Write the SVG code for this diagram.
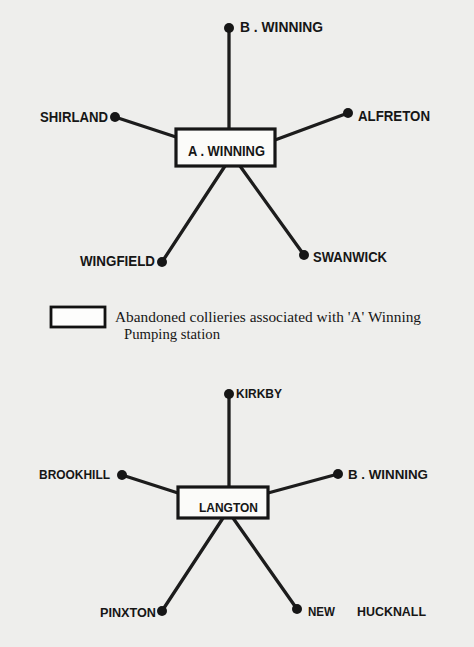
<svg xmlns="http://www.w3.org/2000/svg" width="474" height="647" viewBox="0 0 474 647">
<style>
.lbl{font-family:"Liberation Sans",Arial,sans-serif;font-weight:bold;font-size:14.5px;fill:#161616}
.sm{font-size:13px}
.leg{font-family:"Liberation Serif","Times New Roman",serif;font-size:14.5px;fill:#161616}
.box{fill:#fbfbf9;stroke:#161616;stroke-width:3.2}
.ln{stroke:#1c1c1c;stroke-width:3.3;fill:none;stroke-linecap:round}
.dot{fill:#161616}
</style>
<rect width="474" height="647" fill="#eeeeec"/>
<g id="connectors">
<line class="ln" x1="229" y1="28" x2="229" y2="129"/>
<line class="ln" x1="115" y1="117" x2="176" y2="137"/>
<line class="ln" x1="348" y1="113" x2="275" y2="140"/>
<line class="ln" x1="225" y1="166" x2="162" y2="262"/>
<line class="ln" x1="240" y1="166" x2="304" y2="255"/>
<line class="ln" x1="229" y1="394" x2="229" y2="487"/>
<line class="ln" x1="122" y1="475" x2="178" y2="493"/>
<line class="ln" x1="338" y1="474" x2="268" y2="493"/>
<line class="ln" x1="223" y1="518" x2="162" y2="611"/>
<line class="ln" x1="233" y1="518" x2="297" y2="609"/>
</g>
<g id="a-winning"><rect class="box" x="176" y="129" width="99" height="37"/><text class="lbl" x="188" y="156" textLength="77" lengthAdjust="spacingAndGlyphs">A . WINNING</text></g>
<g id="b-winning-top"><circle class="dot" cx="229" cy="28" r="5"/><text class="lbl" x="240" y="32" textLength="83" lengthAdjust="spacingAndGlyphs">B . WINNING</text></g>
<g id="shirland"><circle class="dot" cx="115" cy="117" r="5"/><text class="lbl" x="40" y="122" textLength="68" lengthAdjust="spacingAndGlyphs">SHIRLAND</text></g>
<g id="alfreton"><circle class="dot" cx="348" cy="113" r="5"/><text class="lbl" x="358" y="121" textLength="72" lengthAdjust="spacingAndGlyphs">ALFRETON</text></g>
<g id="wingfield"><circle class="dot" cx="162" cy="262" r="5"/><text class="lbl" x="80" y="266" textLength="75" lengthAdjust="spacingAndGlyphs">WINGFIELD</text></g>
<g id="swanwick"><circle class="dot" cx="304" cy="255" r="5"/><text class="lbl" x="313" y="262" textLength="74" lengthAdjust="spacingAndGlyphs">SWANWICK</text></g>
<g id="legend"><rect x="51" y="307" width="54" height="20" fill="#fdfdfc" stroke="#111" stroke-width="2.8"/><text class="leg" x="115" y="322" textLength="306" lengthAdjust="spacingAndGlyphs">Abandoned collieries associated with 'A' Winning</text><text class="leg" x="124" y="339" textLength="96" lengthAdjust="spacingAndGlyphs">Pumping station</text></g>
<g id="langton"><rect class="box" x="178" y="487" width="90" height="31"/><text class="lbl sm" x="199" y="512" textLength="59" lengthAdjust="spacingAndGlyphs">LANGTON</text></g>
<g id="kirkby"><circle class="dot" cx="229" cy="394" r="5"/><text class="lbl sm" x="236" y="398" textLength="46" lengthAdjust="spacingAndGlyphs">KIRKBY</text></g>
<g id="brookhill"><circle class="dot" cx="122" cy="475" r="5"/><text class="lbl sm" x="39" y="479" textLength="71" lengthAdjust="spacingAndGlyphs">BROOKHILL</text></g>
<g id="b-winning-bottom"><circle class="dot" cx="338" cy="474" r="5"/><text class="lbl sm" x="348" y="479" textLength="80" lengthAdjust="spacingAndGlyphs">B .  WINNING</text></g>
<g id="pinxton"><circle class="dot" cx="162" cy="611" r="5"/><text class="lbl sm" x="100" y="617" textLength="56" lengthAdjust="spacingAndGlyphs">PINXTON</text></g>
<g id="new-hucknall"><circle class="dot" cx="297" cy="609" r="5"/><text class="lbl sm" x="308" y="616" textLength="27" lengthAdjust="spacingAndGlyphs">NEW</text><text class="lbl sm" x="357" y="616" textLength="69" lengthAdjust="spacingAndGlyphs">HUCKNALL</text></g>
</svg>
